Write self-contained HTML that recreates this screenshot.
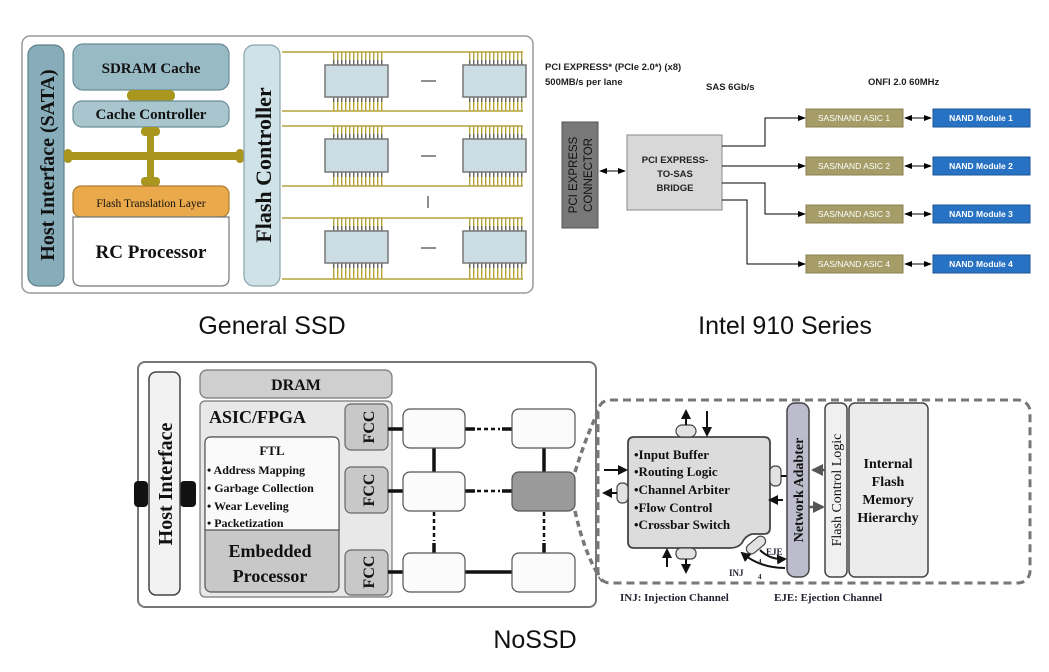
<!DOCTYPE html>
<html><head><meta charset="utf-8"><style>
html,body{margin:0;padding:0;background:#fff}
svg{display:block}
.s{font-family:"Liberation Serif",serif;font-weight:bold}
.a{font-family:"Liberation Sans",sans-serif;font-weight:bold}
.c{font-family:"Liberation Sans",sans-serif}
</style></head><body>
<svg width="1049" height="672" viewBox="0 0 1049 672" xmlns="http://www.w3.org/2000/svg">
<defs>
<pattern id="pins" x="0" y="0" width="4" height="20" patternUnits="userSpaceOnUse">
<rect x="1" y="0" width="1.4" height="20" fill="#b5a33a"/>
</pattern>
<pattern id="pinsg" x="0" y="0" width="4" height="20" patternUnits="userSpaceOnUse">
<rect x="1" y="0" width="1.4" height="20" fill="#666"/>
</pattern>
<marker id="ar" markerWidth="8" markerHeight="8" refX="7" refY="4" orient="auto" markerUnits="userSpaceOnUse"><path d="M0,1 L8,4 L0,7 z" fill="#000"/></marker>
<marker id="al" markerWidth="8" markerHeight="8" refX="1" refY="4" orient="auto" markerUnits="userSpaceOnUse"><path d="M8,1 L0,4 L8,7 z" fill="#000"/></marker>
<marker id="bk" markerWidth="10" markerHeight="10" refX="8" refY="5" orient="auto" markerUnits="userSpaceOnUse"><path d="M0,0 L10,5 L0,10 z" fill="#111"/></marker>
<marker id="gr" markerWidth="12" markerHeight="12" refX="10" refY="6" orient="auto" markerUnits="userSpaceOnUse"><path d="M0,0 L12,6 L0,12 z" fill="#555"/></marker>
</defs>

<!-- ============ General SSD ============ -->
<rect x="22" y="36" width="511" height="257" rx="8" fill="#fff" stroke="#999" stroke-width="1.5"/>
<rect x="28" y="45" width="36" height="241" rx="10" fill="#86adb9" stroke="#5f7f8a" stroke-width="1.2"/>
<text class="s" transform="translate(54,165) rotate(-90)" text-anchor="middle" font-size="20" fill="#111">Host Interface (SATA)</text>
<rect x="73" y="44" width="156" height="46" rx="10" fill="#97bac4" stroke="#6a8c96" stroke-width="1.2"/>
<text class="s" x="151" y="73" text-anchor="middle" font-size="15" fill="#111">SDRAM Cache</text>
<rect x="127" y="90" width="48" height="11" rx="5" fill="#a8961e"/>
<rect x="73" y="101" width="156" height="26" rx="9" fill="#a9c6ce" stroke="#6a8c96" stroke-width="1.2"/>
<text class="s" x="151" y="119" text-anchor="middle" font-size="15" fill="#111">Cache Controller</text>
<rect x="147" y="127" width="7" height="58" fill="#a8961e"/>
<rect x="141" y="127" width="19" height="9" rx="4" fill="#a8961e"/>
<rect x="141" y="177" width="19" height="9" rx="4" fill="#a8961e"/>
<rect x="68" y="152" width="172" height="8" fill="#a8961e"/>
<rect x="64" y="149" width="8" height="14" rx="4" fill="#a8961e"/>
<rect x="236" y="149" width="8" height="14" rx="4" fill="#a8961e"/>
<rect x="73" y="186" width="156" height="31" rx="8" fill="#eaa94a" stroke="#b07f30" stroke-width="1.2"/>
<text class="s" x="151" y="207" text-anchor="middle" font-size="11.5" fill="#111" style="font-weight:normal">Flash Translation Layer</text>
<path d="M73,217 H229 V278 Q229,286 221,286 H81 Q73,286 73,278 Z" fill="#fff" stroke="#777" stroke-width="1.2"/>
<text class="s" x="151" y="258" text-anchor="middle" font-size="19" fill="#111">RC Processor</text>
<rect x="244" y="45" width="36" height="241" rx="10" fill="#cfe2e7" stroke="#8aa3aa" stroke-width="1.2"/>
<text class="s" transform="translate(271,165) rotate(-90)" text-anchor="middle" font-size="22" fill="#111">Flash Controller</text>
<g stroke="#b5a33a" stroke-width="1.5">
<line x1="282" y1="52" x2="523" y2="52"/><line x1="282" y1="111" x2="523" y2="111"/>
<line x1="282" y1="126" x2="523" y2="126"/><line x1="282" y1="186" x2="523" y2="186"/>
<line x1="282" y1="218" x2="523" y2="218"/><line x1="282" y1="279" x2="523" y2="279"/>
</g>
<g>
<rect x="331" y="52" width="54" height="13" fill="url(#pins)"/><rect x="331" y="97" width="54" height="14" fill="url(#pins)"/>
<rect x="469" y="52" width="54" height="13" fill="url(#pins)"/><rect x="469" y="97" width="54" height="14" fill="url(#pins)"/>
<rect x="331" y="126" width="54" height="13" fill="url(#pins)"/><rect x="331" y="172" width="54" height="14" fill="url(#pins)"/>
<rect x="469" y="126" width="54" height="13" fill="url(#pins)"/><rect x="469" y="172" width="54" height="14" fill="url(#pins)"/>
<rect x="331" y="218" width="54" height="13" fill="url(#pins)"/><rect x="331" y="263" width="54" height="16" fill="url(#pins)"/>
<rect x="469" y="218" width="54" height="13" fill="url(#pins)"/><rect x="469" y="263" width="54" height="16" fill="url(#pins)"/>
<rect x="331" y="60" width="54" height="5" fill="url(#pinsg)"/><rect x="331" y="97" width="54" height="5" fill="url(#pinsg)"/>
<rect x="469" y="60" width="54" height="5" fill="url(#pinsg)"/><rect x="469" y="97" width="54" height="5" fill="url(#pinsg)"/>
<rect x="331" y="134" width="54" height="5" fill="url(#pinsg)"/><rect x="331" y="172" width="54" height="5" fill="url(#pinsg)"/>
<rect x="469" y="134" width="54" height="5" fill="url(#pinsg)"/><rect x="469" y="172" width="54" height="5" fill="url(#pinsg)"/>
<rect x="331" y="226" width="54" height="5" fill="url(#pinsg)"/><rect x="331" y="263" width="54" height="5" fill="url(#pinsg)"/>
<rect x="469" y="226" width="54" height="5" fill="url(#pinsg)"/><rect x="469" y="263" width="54" height="5" fill="url(#pinsg)"/>
</g>
<g fill="#cbdde3" stroke="#777" stroke-width="1.5">
<rect x="325" y="65" width="63" height="32"/><rect x="463" y="65" width="63" height="32"/>
<rect x="325" y="139" width="63" height="33"/><rect x="463" y="139" width="63" height="33"/>
<rect x="325" y="231" width="63" height="32"/><rect x="463" y="231" width="63" height="32"/>
</g>
<g stroke="#444" stroke-width="1.2">
<line x1="421" y1="81" x2="436" y2="81"/><line x1="421" y1="156" x2="436" y2="156"/>
<line x1="421" y1="248" x2="436" y2="248"/><line x1="428" y1="196" x2="428" y2="208"/>
</g>
<text class="c" x="272" y="334" text-anchor="middle" font-size="25" fill="#111">General SSD</text>

<!-- ============ Intel 910 ============ -->
<text class="a" x="545" y="70" font-size="9.5" fill="#222">PCI EXPRESS* (PCIe 2.0*) (x8)</text>
<text class="a" x="545" y="85" font-size="9.5" fill="#222">500MB/s per lane</text>
<text class="a" x="706" y="90" font-size="9.5" fill="#222">SAS 6Gb/s</text>
<text class="a" x="868" y="85" font-size="9.5" fill="#222">ONFI 2.0 60MHz</text>
<rect x="562" y="122" width="36" height="106" fill="#787878" stroke="#555"/>
<text class="c" transform="translate(577,175) rotate(-90)" text-anchor="middle" font-size="11.5" fill="#111">PCI EXPRESS</text>
<text class="c" transform="translate(592,175) rotate(-90)" text-anchor="middle" font-size="11.5" fill="#111">CONNECTOR</text>
<rect x="627" y="135" width="95" height="75" fill="#d8d8d8" stroke="#888"/>
<text class="a" x="675" y="163" text-anchor="middle" font-size="9.5" fill="#222">PCI EXPRESS-</text>
<text class="a" x="675" y="177" text-anchor="middle" font-size="9.5" fill="#222">TO-SAS</text>
<text class="a" x="675" y="191" text-anchor="middle" font-size="9.5" fill="#222">BRIDGE</text>
<line x1="600" y1="171" x2="625" y2="171" stroke="#000" marker-start="url(#al)" marker-end="url(#ar)"/>
<g fill="none" stroke="#000" stroke-width="1">
<polyline points="722,146 765,146 765,118 805,118" marker-end="url(#ar)"/>
<polyline points="722,166 805,166" marker-end="url(#ar)"/>
<polyline points="722,183 765,183 765,214 805,214" marker-end="url(#ar)"/>
<polyline points="722,200 747,200 747,264 805,264" marker-end="url(#ar)"/>
</g>
<g fill="#a59c68" stroke="#8a8050">
<rect x="806" y="109" width="97" height="18"/><rect x="806" y="157" width="97" height="18"/>
<rect x="806" y="205" width="97" height="18"/><rect x="806" y="255" width="97" height="18"/>
</g>
<g class="a" font-size="8.5" fill="#fff" text-anchor="middle" style="font-weight:normal">
<text x="854" y="121">SAS/NAND ASIC 1</text><text x="854" y="169">SAS/NAND ASIC 2</text>
<text x="854" y="217">SAS/NAND ASIC 3</text><text x="854" y="267">SAS/NAND ASIC 4</text>
</g>
<g fill="#2872c4" stroke="#1d5597">
<rect x="933" y="109" width="97" height="18"/><rect x="933" y="157" width="97" height="18"/>
<rect x="933" y="205" width="97" height="18"/><rect x="933" y="255" width="97" height="18"/>
</g>
<g class="a" font-size="8.5" fill="#fff" text-anchor="middle">
<text x="981" y="121">NAND Module 1</text><text x="981" y="169">NAND Module 2</text>
<text x="981" y="217">NAND Module 3</text><text x="981" y="267">NAND Module 4</text>
</g>
<g stroke="#000">
<line x1="905" y1="118" x2="931" y2="118" marker-start="url(#al)" marker-end="url(#ar)"/>
<line x1="905" y1="166" x2="931" y2="166" marker-start="url(#al)" marker-end="url(#ar)"/>
<line x1="905" y1="214" x2="931" y2="214" marker-start="url(#al)" marker-end="url(#ar)"/>
<line x1="905" y1="264" x2="931" y2="264" marker-start="url(#al)" marker-end="url(#ar)"/>
</g>
<text class="c" x="785" y="334" text-anchor="middle" font-size="25" fill="#111">Intel 910 Series</text>

<!-- ============ NoSSD ============ -->
<rect x="138" y="362" width="458" height="245" rx="7" fill="#fff" stroke="#777" stroke-width="2"/>
<rect x="134" y="481" width="14" height="26" rx="4" fill="#111"/>
<rect x="180" y="481" width="16" height="26" rx="4" fill="#111"/>
<rect x="149" y="372" width="31" height="223" rx="7" fill="#f2f2f2" stroke="#444" stroke-width="1.5"/>
<text class="s" transform="translate(172,484) rotate(-90)" text-anchor="middle" font-size="20" fill="#111">Host Interface</text>
<rect x="200" y="370" width="192" height="28" rx="7" fill="#cfcfcf" stroke="#777" stroke-width="1.2"/>
<text class="s" x="296" y="390" text-anchor="middle" font-size="16" fill="#111">DRAM</text>
<rect x="200" y="401" width="192" height="196" rx="5" fill="#e8e8e8" stroke="#777" stroke-width="1.2"/>
<text class="s" x="209" y="423" font-size="18" fill="#111">ASIC/FPGA</text>
<rect x="205" y="437" width="134" height="155" rx="6" fill="#c8c8c8" stroke="#555" stroke-width="1.2"/>
<path d="M211,437 H333 Q339,437 339,443 V530 H205 V443 Q205,437 211,437 Z" fill="#fafafa" stroke="#555" stroke-width="1.2"/>
<text class="s" x="272" y="455" text-anchor="middle" font-size="13" fill="#111">FTL</text>
<g class="s" font-size="12" fill="#111">
<text x="207" y="474">• Address Mapping</text>
<text x="207" y="492">• Garbage Collection</text>
<text x="207" y="510">• Wear Leveling</text>
<text x="207" y="527">• Packetization</text>
</g>
<text class="s" x="270" y="557" text-anchor="middle" font-size="18" fill="#111">Embedded</text>
<text class="s" x="270" y="582" text-anchor="middle" font-size="18" fill="#111">Processor</text>
<g fill="#c8c8c8" stroke="#666" stroke-width="1.2">
<rect x="345" y="404" width="43" height="46" rx="6"/><rect x="345" y="467" width="43" height="46" rx="6"/><rect x="345" y="550" width="43" height="45" rx="6"/>
</g>
<g class="s" font-size="16" fill="#111" text-anchor="middle">
<text transform="translate(374,427) rotate(-90)">FCC</text>
<text transform="translate(374,490) rotate(-90)">FCC</text>
<text transform="translate(374,572) rotate(-90)">FCC</text>
</g>
<g stroke="#111" stroke-width="3.5" fill="none">
<line x1="388" y1="429" x2="403" y2="429"/><line x1="388" y1="491" x2="403" y2="491"/><line x1="388" y1="572" x2="403" y2="572"/>
<line x1="465" y1="429" x2="475" y2="429"/><line x1="502" y1="429" x2="512" y2="429"/>
<line x1="465" y1="491" x2="475" y2="491"/><line x1="502" y1="491" x2="512" y2="491"/>
<line x1="465" y1="572" x2="512" y2="572"/>
<line x1="434" y1="448" x2="434" y2="472"/><line x1="544" y1="448" x2="544" y2="472"/>
<line x1="434" y1="543" x2="434" y2="553"/><line x1="544" y1="543" x2="544" y2="553"/>
<line x1="477" y1="429" x2="500" y2="429" stroke-dasharray="4,3" stroke-width="2.5"/>
<line x1="477" y1="491" x2="500" y2="491" stroke-dasharray="4,3" stroke-width="2.5"/>
<line x1="434" y1="512" x2="434" y2="541" stroke-dasharray="4,3" stroke-width="2.5"/>
<line x1="544" y1="512" x2="544" y2="541" stroke-dasharray="4,3" stroke-width="2.5"/>
</g>
<g stroke="#555" stroke-width="1.2">
<rect x="403" y="409" width="62" height="39" rx="7" fill="#fbfbfb"/><rect x="512" y="409" width="63" height="39" rx="7" fill="#fbfbfb"/>
<rect x="403" y="472" width="62" height="39" rx="7" fill="#fbfbfb"/><rect x="512" y="472" width="63" height="39" rx="7" fill="#9a9a9a"/>
<rect x="403" y="553" width="62" height="39" rx="7" fill="#fbfbfb"/><rect x="512" y="553" width="63" height="39" rx="7" fill="#fbfbfb"/>
</g>
<g stroke="#777" stroke-width="3.5" stroke-dasharray="6,4" fill="none">
<path d="M575,472 Q588,430 604,400"/>
<path d="M575,511 Q586,560 604,583"/>
</g>
<rect x="598" y="400" width="432" height="183" rx="12" fill="#fff" stroke="#777" stroke-width="3" stroke-dasharray="8,5"/>
<path d="M634,437 H764 Q770,437 770,443 V528 Q770,534 764,534 H752 Q745,536 742,543 Q738,548 730,548 H634 Q628,548 628,542 V443 Q628,437 634,437 Z" fill="#dcdcdc" stroke="#444" stroke-width="1.8"/>
<g class="s" font-size="13" fill="#111">
<text x="634" y="459">•Input Buffer</text>
<text x="634" y="476">•Routing Logic</text>
<text x="634" y="494">•Channel Arbiter</text>
<text x="634" y="512">•Flow Control</text>
<text x="634" y="529">•Crossbar Switch</text>
</g>
<g fill="#e2e2e2" stroke="#444" stroke-width="1.2">
<rect x="676" y="425" width="20" height="12" rx="6"/>
<rect x="676" y="548" width="20" height="11" rx="5"/>
<rect x="770" y="466" width="11" height="20" rx="5"/>
<rect x="617" y="483" width="11" height="20" rx="5"/>
<rect x="745" y="540" width="22" height="10" rx="5" transform="rotate(-40 756 545)"/>
</g>
<g stroke="#111" stroke-width="2" fill="none">
<line x1="686" y1="425" x2="686" y2="411" marker-end="url(#bk)"/>
<line x1="707" y1="411" x2="707" y2="435" marker-end="url(#bk)"/>
<line x1="604" y1="470" x2="626" y2="470" marker-end="url(#bk)"/>
<line x1="617" y1="493" x2="604" y2="493" marker-end="url(#bk)"/>
<line x1="781" y1="476" x2="795" y2="476" marker-end="url(#bk)"/>
<line x1="783" y1="500" x2="770" y2="500" marker-end="url(#bk)"/>
<line x1="667" y1="567" x2="667" y2="550" marker-end="url(#bk)"/>
<line x1="686" y1="559" x2="686" y2="572" marker-end="url(#bk)"/>
<path d="M760,550 Q770,560 785,559" marker-end="url(#bk)"/>
<path d="M785,568 Q760,568 742,553" marker-end="url(#bk)"/>
</g>
<g class="s" font-size="9" fill="#223">
<text x="766" y="555">EJE</text><text x="729" y="576">INJ</text><text x="758" y="564" font-size="7">4</text><text x="758" y="579" font-size="7">4</text>
</g>
<rect x="787" y="403" width="22" height="174" rx="8" fill="#bcbccc" stroke="#444" stroke-width="1.5"/>
<text class="s" transform="translate(803,490) rotate(-90)" text-anchor="middle" font-size="14" fill="#111">Network Adabter</text>
<rect x="825" y="403" width="22" height="174" rx="6" fill="#f0f0f0" stroke="#444" stroke-width="1.5"/>
<text class="s" transform="translate(841,490) rotate(-90)" text-anchor="middle" font-size="14" fill="#111" style="font-weight:normal">Flash Control Logic</text>
<rect x="849" y="403" width="79" height="174" rx="6" fill="#ececec" stroke="#444" stroke-width="1.5"/>
<g class="s" font-size="14" fill="#111" text-anchor="middle">
<text x="888" y="468">Internal</text><text x="888" y="486">Flash</text><text x="888" y="504">Memory</text><text x="888" y="522">Hierarchy</text>
</g>
<g stroke="#555" stroke-width="2.5">
<line x1="825" y1="470" x2="813" y2="470" marker-end="url(#gr)"/>
<line x1="809" y1="507" x2="823" y2="507" marker-end="url(#gr)"/>
</g>
<text class="s" x="620" y="601" font-size="11" fill="#223">INJ: Injection Channel</text>
<text class="s" x="774" y="601" font-size="11" fill="#223">EJE: Ejection Channel</text>
<text class="c" x="535" y="648" text-anchor="middle" font-size="25" fill="#111">NoSSD</text>
</svg>
</body></html>
